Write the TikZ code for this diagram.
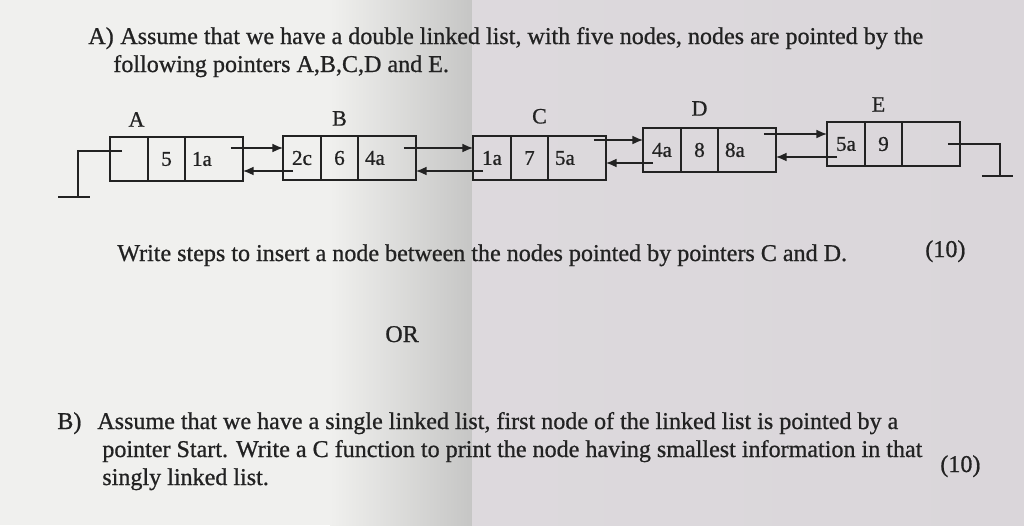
\documentclass[tikz,border=0pt]{standalone}
\usepackage{fontspec}
\setmainfont{Liberation Serif}[FakeBold=0.8]
\usetikzlibrary{positioning,calc,arrows.meta}
\definecolor{paperL}{RGB}{240,240,238}
\definecolor{paperF}{RGB}{198,198,197}
\definecolor{paperR}{RGB}{218,214,218}
\definecolor{ink}{RGB}{34,34,34}

\begin{document}
\begin{tikzpicture}[x=0.02cm,y=-0.02cm]
  \tikzset{cellstyle/.style = {draw=ink,line width=1pt,outer sep=0pt,inner sep=0pt,minimum height=0.88cm,text=ink,font=\fontsize{12}{14}\selectfont}}
  \tikzset{prevcell/.style = {cellstyle,minimum width=0.76cm,anchor=west},
           infocell/.style = {cellstyle,minimum width=0.74cm},
           nextcell/.style = {cellstyle,text width=0.88cm,align=left,inner xsep=0.14cm},
           ptrname/.style = {inner sep=0pt,text=ink,font=\fontsize{12.5}{14}\selectfont},
           link/.style = {draw=ink,line width=0.8pt,-{Latex[length=6pt,width=5pt]}},
           wire/.style = {draw=ink,line width=1pt},
           txt/.style = {anchor=base west,inner sep=0pt,text=ink,font=\fontsize{13.7}{17}\selectfont}}
% paper
\fill[paperL] (0,0) rectangle (1024,525);
\shade[left color=paperL,right color=paperF] (330,0) rectangle (472,525);
\shade[left color=paperR!92!white,right color=paperR] (472,0) rectangle (1024,525);
% question A
\node[txt] (qAlbl) at (88,44) {A)};
\node[txt] (qA1) at (120,44) {Assume that we have a double linked list, with five nodes, nodes are pointed by the};
\node[txt] (qA2) at (113,72) {following pointers A,B,C,D and E.};
% list nodes
\node[prevcell] (Ap) at (110,159) {};
\node[infocell,right=0pt of Ap] (Ai) {5};
\node[nextcell,right=0pt of Ai] (An) {1a};
\node[prevcell] (Bp) at (283,158) {2c};
\node[infocell,right=0pt of Bp] (Bi) {6};
\node[nextcell,right=0pt of Bi] (Bn) {4a};
\node[prevcell] (Cp) at (473,158) {1a};
\node[infocell,right=0pt of Cp] (Ci) {7};
\node[nextcell,right=0pt of Ci] (Cn) {5a};
\node[prevcell] (Dp) at (643,150) {4a};
\node[infocell,right=0pt of Dp] (Di) {8};
\node[nextcell,right=0pt of Di] (Dn) {8a};
\node[prevcell] (Ep) at (827,144) {5a};
\node[infocell,right=0pt of Ep] (Ei) {9};
\node[nextcell,right=0pt of Ei] (En) {};
%
\node[ptrname,above=0.2cm of Ai,xshift=-0.6cm] (Alab) {A};
\node[ptrname,above=0.2cm of Bi] (Blab) {B};
\node[ptrname,above=0.24cm of Ci,xshift=0.2cm] (Clab) {C};
\node[ptrname,above=0.24cm of Di] (Dlab) {D};
\node[ptrname,above=0.2cm of Ei,xshift=-0.1cm] (Elab) {E};
% forward and backward links
\draw[link] ($(An.east |- Bp.north)+(-12,12)$) -- ($(Bp.north west)+(0,12)$);
\draw[link] ($(Bp.south west)+(10,-9)$) -- ($(An.east |- Bp.south)+(0,-9)$);
\draw[link] ($(Bn.east |- Cp.north)+(-12,12)$) -- ($(Cp.north west)+(0,12)$);
\draw[link] ($(Cp.south west)+(10,-9)$) -- ($(Bn.east |- Cp.south)+(0,-9)$);
\draw[link] ($(Cn.east |- Dp.north)+(-12,12)$) -- ($(Dp.north west)+(0,12)$);
\draw[link] ($(Dp.south west)+(10,-9)$) -- ($(Cn.east |- Dp.south)+(0,-9)$);
\draw[link] ($(Dn.east |- Ep.north)+(-12,12)$) -- ($(Ep.north west)+(0,12)$);
\draw[link] ($(Ep.south west)+(10,-9)$) -- ($(Dn.east |- Ep.south)+(0,-9)$);
% null ends
\coordinate (gA) at ($(Ap.west)+(12,-8)$);
\draw[wire] (gA) -- ++(-44,0) -- ++(0,46) coordinate (gAb);
\draw[wire] ($(gAb)+(-20,0)$) -- ($(gAb)+(12,0)$);
\coordinate (gE) at ($(En.east)+(-12,0)$);
\draw[wire] (gE) -- ++(52,0) -- ++(0,32) coordinate (gEb);
\draw[wire] ($(gEb)+(-18,0)$) -- ($(gEb)+(13,0)$);
% task
\node[txt] (task) at (117,261) {Write steps to insert a node between the nodes pointed by pointers C and D.};
\node[txt] (markA) at (925,257) {(10)};
\node[txt] (orword) at (385,342) {OR};
% question B
\node[txt] (qBlbl) at (57,429) {B)};
\node[txt] (qB1) at (97,429) {Assume that we have a single linked list, first node of the linked list is pointed by a};
\node[txt] (qB2) at (102,457) {pointer Start. Write a C function to print the node having smallest information in that};
\node[txt] (qB3) at (102,485) {singly linked list.};
\node[txt] (markB) at (940,472) {(10)};
\end{tikzpicture}
\end{document}
